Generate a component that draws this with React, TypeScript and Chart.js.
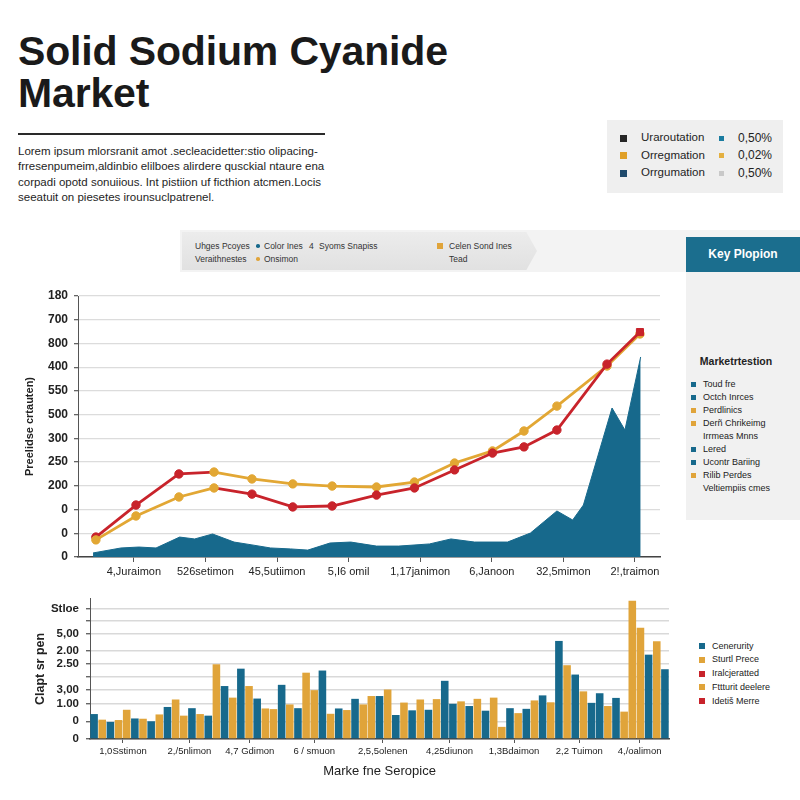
import React, { useEffect, useRef } from "react";
import { Chart, registerables } from "chart.js";
Chart.register(...registerables);

const FONT = '"Liberation Sans", Arial, Helvetica, sans-serif';
const RED = "#c8232b";
const ORANGE = "#e2a734";
const TEAL = "#17698c";
const BAR_ORANGE = "#e0a43a";

// ---------- top chart data ----------
const topXTickPositions = [0, 10, 20, 30, 40, 50, 60, 70];
const topXTickLabels = ["4,Juraimon", "526setimon", "45,5utiimon", "5,I6 omil", "1,17janimon", "6,Janoon", "32,5mimon", "2!,traimon"];
const topYTickLabels = ["0", "0", "0", "200", "250", "300", "500", "550", "400", "800", "700", "180"];

const linePeriods = [-5.3, 0.3, 6.3, 11.2, 16.5, 22.2, 27.7, 33.9, 39.2, 44.8, 50.1, 54.5, 59.1, 66.1, 70.7];
const upperSeries = [0.84, 2.19, 3.5, 3.58, 3.29, 3.08, 2.99, 2.95, 3.16, 3.96, 4.47, 5.31, 6.36, 8.05, 9.4];
const lowerSeries = [0.72, 1.73, 2.53, 2.91, 2.65, 2.11, 2.15, 2.61, 2.91, 3.67, 4.38, 4.64, 5.35, 8.13, 9.48];
const SWAP_INDEX = 3;

const areaPeriods = [-5.7, -1.8, 0.7, 3.1, 6.4, 8.5, 11.0, 14.0, 16.5, 19.1, 21.9, 24.3, 27.4, 30.3, 33.9, 37.0, 41.3, 44.3, 47.6, 52.2, 55.4, 59.1, 61.3, 62.8, 66.8, 68.6, 70.8];
const areaValues = [0.17, 0.38, 0.42, 0.38, 0.84, 0.76, 0.97, 0.63, 0.51, 0.38, 0.34, 0.29, 0.59, 0.63, 0.46, 0.46, 0.55, 0.76, 0.63, 0.63, 1.01, 1.94, 1.56, 2.19, 6.28, 5.35, 8.43];

// ---------- bottom chart data ----------
const capacityBars = [2.67, null, 1.83, null, null, 2.2, null, 1.9, null, 3.43, null, null, 3.3, null, 2.5, null, 5.67, null, 7.53, null, 4.33, null, null, 5.8, null, 3.3, null, null, 7.33, null, 3.27, null, 4.3, null, null, 4.6, null, 2.57, null, 3.07, null, 3.13, null, 6.23, 3.77, null, 3.53, null, 3.03, null, null, 3.3, null, 3.23, null, 4.67, null, 10.5, null, 6.9, null, 3.87, 4.9, null, 4.4, null, null, null, 9.03, null, 7.47];
const priceBars = [null, 2.07, null, 2.03, 3.13, null, 2.17, null, 2.63, null, 4.23, 2.5, null, 2.67, null, 8.0, null, 4.43, null, 5.67, null, 3.27, 3.2, null, 3.7, null, 7.1, 5.23, null, 2.7, null, 3.1, null, 3.7, 4.6, null, 5.3, null, 3.9, null, 4.23, null, 4.27, null, null, 4.03, null, 4.3, null, 4.43, 1.3, null, 2.77, null, 4.13, null, 3.93, null, 7.9, null, 5.1, null, null, 3.53, null, 2.93, 14.8, 11.9, null, 10.47, null];
const barPeriods = capacityBars.map((_, i) => `P${i + 1}`);

const botXTickPositions = [4.04, 12.2, 19.6, 27.5, 35.9, 44.1, 52.0, 60.0, 67.4];
const botXTickLabels = ["1,0Sstimon", "2,/5nlimon", "4,7 Gdimon", "6 / smuon", "2,5,5olenen", "4,25diunon", "1,3Bdaimon", "2,2 Tuimon", "4,/oalimon"];
const botYTickValues = [0, 1.9, 3.73, 5.3, 6.67, 8.07, 9.43, 11.27, 12.63, 13.97];
const botYTickLabels = ["0", "0", "1.00", "3,00", "", "2.50", "2.00", "5,00", "", "Stloe"];

// ---------- side texts ----------
const topLegend = [
  { label: "Uraroutation", big: "#262626", small: "#1a7ca0", value: "0,50%" },
  { label: "Orregmation", big: "#e0a028", small: "#e4b040", value: "0,02%" },
  { label: "Orrgumation", big: "#1f4a6b", small: "#c9c9c9", value: "0,50%" },
];
const panelItems: { text: string; color: string | null }[] = [
  { text: "Toud fre", color: TEAL },
  { text: "Octch Inrces", color: TEAL },
  { text: "Perdlinics", color: BAR_ORANGE },
  { text: "Derñ Chrikeimg", color: BAR_ORANGE },
  { text: "Irrmeas Mnns", color: null },
  { text: "Lered", color: TEAL },
  { text: "Ucontr Bariing", color: TEAL },
  { text: "Rilib Perdes", color: BAR_ORANGE },
  { text: "Veltiempiis cmes", color: null },
];
const bottomLegend = [
  { text: "Cenerurity", color: TEAL },
  { text: "Sturtl Prece", color: BAR_ORANGE },
  { text: "Iralcjeratted", color: RED },
  { text: "Fttturit deelere", color: BAR_ORANGE },
  { text: "Idetiš Merre", color: RED },
];
const paragraphLines = [
  "Lorem ipsum mlorsranit amot .secleacidetter:stio olipacing-",
  "frresenpumeim,aldinbio elilboes alirdere qusckial ntaure ena",
  "corpadi opotd sonuiious. Int pistiion uf ficthion atcmen.Locis",
  "seeatuit on piesetes irounsuclpatrenel.",
];

function T(x: number, y: number, text: string, size: number, extra: any = {}) {
  return (
    <div
      style={{
        position: "absolute",
        left: x,
        top: y - size * 0.6,
        fontSize: size,
        lineHeight: `${size * 1.2}px`,
        whiteSpace: "nowrap",
        ...extra,
      }}
    >
      {text}
    </div>
  );
}
function Sq(x: number, y: number, s: number, color: string, round = false) {
  return (
    <div
      style={{
        position: "absolute",
        left: x,
        top: y - s / 2,
        width: s,
        height: s,
        background: color,
        borderRadius: round ? "50%" : 0,
      }}
    />
  );
}

export default function App() {
  const topRef = useRef<HTMLCanvasElement>(null);
  const botRef = useRef<HTMLCanvasElement>(null);

  useEffect(() => {
    Chart.defaults.font.family = FONT;
    const last = linePeriods.length - 1;
    const topChart = new Chart(topRef.current!, {
      type: "line",
      data: {
        datasets: [
          {
            label: "Upper",
            data: linePeriods.map((x, i) => ({ x, y: upperSeries[i] })),
            borderColor: RED,
            borderWidth: 2.8,
            segment: { borderColor: (c: any) => (c.p0DataIndex < SWAP_INDEX ? RED : ORANGE) },
            pointBackgroundColor: upperSeries.map((_, i) => (i < SWAP_INDEX ? RED : ORANGE)),
            pointBorderColor: upperSeries.map((_, i) => (i < SWAP_INDEX ? RED : ORANGE)),
            pointRadius: 4.2,
            pointBorderWidth: 1,
            tension: 0,
            order: 1,
          },
          {
            label: "Lower",
            data: linePeriods.map((x, i) => ({ x, y: lowerSeries[i] })),
            borderColor: RED,
            borderWidth: 2.8,
            segment: { borderColor: (c: any) => (c.p0DataIndex < SWAP_INDEX ? ORANGE : RED) },
            pointBackgroundColor: lowerSeries.map((_, i) => (i <= SWAP_INDEX ? ORANGE : RED)),
            pointBorderColor: lowerSeries.map((_, i) => (i <= SWAP_INDEX ? ORANGE : RED)),
            pointStyle: lowerSeries.map((_, i) => (i === last ? "rect" : "circle")),
            pointRadius: lowerSeries.map((_, i) => (i === last ? 5 : 4.2)),
            pointBorderWidth: 1,
            tension: 0,
            order: 0,
          },
          {
            label: "Area",
            data: areaPeriods.map((x, i) => ({ x, y: areaValues[i] })),
            fill: "origin",
            backgroundColor: TEAL,
            borderColor: TEAL,
            borderWidth: 1,
            pointRadius: 0,
            tension: 0,
            order: 2,
          },
        ],
      },
      options: {
        animation: false,
        responsive: false,
        events: [],
        layout: { padding: { top: 16, right: 20, left: 0, bottom: 0 } },
        plugins: { legend: { display: false }, tooltip: { enabled: false } },
        scales: {
          x: {
            type: "linear",
            min: -7.8,
            max: 73.5,
            offset: false,
            afterBuildTicks: (s: any) => {
              s.ticks = topXTickPositions.map((v) => ({ value: v }));
            },
            afterFit: (s: any) => {
              s.height = 33;
            },
            ticks: {
              callback: (_v: any, i: number) => topXTickLabels[i],
              font: { size: 11 },
              color: "#222",
              padding: 3,
              maxRotation: 0,
              autoSkip: false,
            },
            grid: { drawOnChartArea: false, tickLength: 5, tickColor: "#555" },
            border: { color: "#444", width: 1.5 },
          },
          y: {
            type: "linear",
            min: 0,
            max: 11,
            afterBuildTicks: (s: any) => {
              s.ticks = topYTickLabels.map((_, i) => ({ value: i }));
            },
            afterFit: (s: any) => {
              s.width = 78;
            },
            ticks: {
              callback: (_v: any, i: number) => topYTickLabels[i],
              font: { size: 12, weight: "bold" },
              color: "#222",
              padding: 6,
              autoSkip: false,
            },
            grid: { color: "#dcdcdc", lineWidth: 1.3, tickLength: 4, tickColor: "#666" },
            border: { color: "#555", width: 1 },
            title: {
              display: true,
              text: "Preelidse crtauten)",
              font: { size: 11, weight: "bold" },
              color: "#222",
              padding: { top: 23, bottom: 0 },
            },
          },
        },
      },
    } as any);

    const botChart = new Chart(botRef.current!, {
      type: "bar",
      data: {
        labels: barPeriods,
        datasets: [
          {
            label: "Cenerurity",
            data: capacityBars,
            backgroundColor: TEAL,
            grouped: false,
            categoryPercentage: 1,
            barPercentage: 0.93,
            xAxisID: "x",
          },
          {
            label: "Sturtl Prece",
            data: priceBars,
            backgroundColor: BAR_ORANGE,
            grouped: false,
            categoryPercentage: 1,
            barPercentage: 0.93,
            xAxisID: "x",
          },
        ],
      },
      options: {
        animation: false,
        responsive: false,
        events: [],
        layout: { padding: { top: 4, right: 11, left: 0, bottom: 0 } },
        plugins: { legend: { display: false }, tooltip: { enabled: false } },
        scales: {
          x: { type: "category", display: false, offset: true },
          xl: {
            type: "linear",
            position: "bottom",
            min: 0,
            max: barPeriods.length,
            offset: false,
            afterBuildTicks: (s: any) => {
              s.ticks = botXTickPositions.map((v) => ({ value: v }));
            },
            afterFit: (s: any) => {
              s.height = 46;
            },
            ticks: {
              callback: (_v: any, i: number) => botXTickLabels[i],
              font: { size: 9.5 },
              color: "#222",
              padding: 3,
              maxRotation: 0,
              autoSkip: false,
            },
            grid: { drawOnChartArea: false, offset: false, tickLength: 4, tickColor: "#555" },
            border: { color: "#444", width: 1.5 },
            title: {
              display: true,
              text: "Marke fne Seropice",
              font: { size: 13 },
              color: "#222",
              padding: { top: 4, bottom: 6 },
            },
          },
          y: {
            type: "linear",
            min: 0,
            max: 15,
            afterBuildTicks: (s: any) => {
              s.ticks = botYTickValues.map((v) => ({ value: v }));
            },
            afterFit: (s: any) => {
              s.width = 90;
            },
            ticks: {
              callback: (_v: any, i: number) => botYTickLabels[i],
              font: { size: 11.5, weight: "bold" },
              color: "#222",
              padding: 7,
              autoSkip: false,
            },
            grid: { color: "#d9d9d9", lineWidth: 1.4, tickLength: 4, tickColor: "#666" },
            border: { color: "#555", width: 1 },
            title: {
              display: true,
              text: "Clapt sr pen",
              font: { size: 12.5, weight: "bold" },
              color: "#222",
              padding: { top: 33, bottom: 0 },
            },
          },
        },
      },
    } as any);

    return () => {
      topChart.destroy();
      botChart.destroy();
    };
  }, []);

  return (
    <div
      style={{
        position: "absolute",
        left: 0,
        top: 0,
        width: 800,
        height: 800,
        background: "#fff",
        fontFamily: FONT,
        color: "#1e1e1e",
        overflow: "hidden",
      }}
    >
      {/* Title */}
      <div
        style={{
          position: "absolute",
          left: 18,
          top: 30,
          fontSize: 41,
          fontWeight: 700,
          lineHeight: "42px",
          letterSpacing: -0.15,
          color: "#1a1a1a",
          whiteSpace: "nowrap",
        }}
      >
        Solid Sodium Cyanide
        <br />
        Market
      </div>
      <div style={{ position: "absolute", left: 18, top: 133, width: 307, height: 1.5, background: "#2a2a2a" }} />
      {paragraphLines.map((l, i) => (
        <React.Fragment key={i}>{T(18, 152 + i * 15.3, l, 11.5, { color: "#1e1e1e" })}</React.Fragment>
      ))}

      {/* Top-right legend box */}
      <div style={{ position: "absolute", left: 607, top: 120, width: 176, height: 73, background: "#efefef" }} />
      {topLegend.map((r, i) => {
        const y = 138 + i * 17.6;
        return (
          <React.Fragment key={i}>
            {Sq(620, y, 7, r.big)}
            {T(641, y, r.label, 11.5)}
            {Sq(719, y, 5, r.small)}
            {T(738, y, r.value, 12)}
          </React.Fragment>
        );
      })}

      {/* Banner strip */}
      <div style={{ position: "absolute", left: 180, top: 230, width: 620, height: 42, background: "#f3f3f3" }} />
      <div
        style={{
          position: "absolute",
          left: 182,
          top: 232,
          width: 355,
          height: 38,
          background: "linear-gradient(#ececec, #e1e1e1)",
          clipPath: "polygon(0 0, 97% 0, 100% 50%, 97% 100%, 0 100%)",
        }}
      />
      {T(195, 246, "Uhges Pcoyes", 8.5, { color: "#333" })}
      {Sq(256, 246, 3.5, TEAL, true)}
      {T(264, 246, "Color Ines", 8.5, { color: "#333" })}
      {T(309, 246, "4", 8.5, { color: "#333" })}
      {T(319, 246, "Syoms Snapiss", 8.5, { color: "#333" })}
      {T(195, 259, "Veraithnestes", 8.5, { color: "#333" })}
      {Sq(256, 259, 3.5, BAR_ORANGE, true)}
      {T(264, 259, "Onsimon", 8.5, { color: "#333" })}
      {Sq(437, 246, 6, BAR_ORANGE)}
      {T(449, 246, "Celen Sond Ines", 8.5, { color: "#333" })}
      {T(449, 259, "Tead", 8.5, { color: "#333" })}

      {/* Key box + panel */}
      <div
        style={{
          position: "absolute",
          left: 686,
          top: 237,
          width: 114,
          height: 35,
          background: "#1b6e8e",
          color: "#fff",
          fontWeight: 700,
          fontSize: 12,
          lineHeight: "35px",
          textAlign: "center",
        }}
      >
        Key Plopion
      </div>
      <div style={{ position: "absolute", left: 686, top: 272, width: 114, height: 248, background: "#f1f1f1" }} />
      <div
        style={{
          position: "absolute",
          left: 686,
          width: 100,
          top: 355,
          fontSize: 10.5,
          lineHeight: "13px",
          fontWeight: 700,
          textAlign: "center",
          color: "#222",
        }}
      >
        Marketrtestion
      </div>
      {panelItems.map((it, i) => {
        const y = 384 + i * 13.1;
        return (
          <React.Fragment key={i}>
            {it.color ? Sq(691, y, 5, it.color) : null}
            {T(703, y, it.text, 9, { color: "#222" })}
          </React.Fragment>
        );
      })}

      {/* Bottom legend */}
      {bottomLegend.map((it, i) => {
        const y = 646 + i * 13.8;
        return (
          <React.Fragment key={i}>
            {Sq(699, y, 6, it.color)}
            {T(712, y, it.text, 9, { color: "#222" })}
          </React.Fragment>
        );
      })}

      <canvas ref={topRef} width={680} height={310} style={{ position: "absolute", left: 0, top: 280, width: 680, height: 310 }} />
      <canvas ref={botRef} width={680} height={200} style={{ position: "absolute", left: 0, top: 585, width: 680, height: 200 }} />
    </div>
  );
}
